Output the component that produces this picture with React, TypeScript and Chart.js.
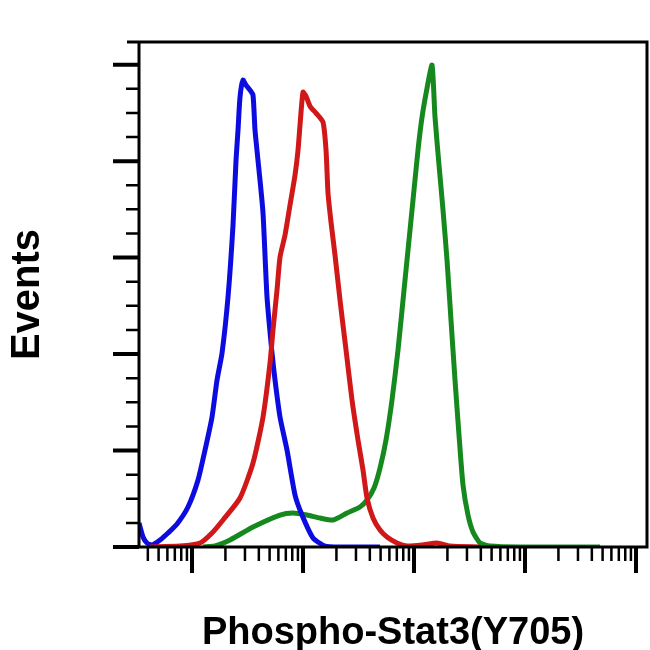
import React, { useEffect, useRef } from "react";
import { Chart, registerables } from "chart.js";

Chart.register(...registerables);

// ---- data (fluorescence intensity, log scale) / (events) ----
const blueIntensity = [3.33, 3.62, 3.93, 4.36, 5.15, 6.08, 7.33, 9.2, 11.33, 13.1, 15.14, 16.8, 18.64, 21.1, 23.41, 24.92, 25.97, 27.06, 28.81, 30.65, 33.31, 35.44, 36.95, 40.14, 43.62, 47.4, 52.57, 55.94, 62.06, 71.76, 84.73, 97.95, 123.1, 157.8, 215.4, 494];
const blueEvents = [4.97, 2.07, 0.83, 0.41, 1.45, 2.9, 4.77, 8.29, 13.89, 20.1, 26.94, 34.61, 40.21, 51.81, 66.74, 80.21, 86.42, 93.26, 96.79, 95.75, 94.72, 93.68, 86.42, 78.13, 69.22, 51.81, 40.21, 34.61, 26.94, 20.1, 10.78, 6.63, 1.87, 0.2, 0, 0];

const redIntensity = [4.18, 7.8, 11.81, 15.14, 19.03, 27.06, 35.44, 43.62, 50.44, 53.66, 58.32, 62.06, 68.84, 76.36, 84.73, 90.16, 93.97, 100, 106.4, 115.6, 131, 151.4, 161.2, 168, 178.8, 194.2, 215.4, 244.1, 276.3, 313, 347.2, 377.3, 427.2, 494, 571.2, 702.9, 864.9, 1181, 1612, 2110, 3933];
const redEvents = [0, 0.21, 0.83, 2.9, 5.6, 10.16, 17.41, 26.94, 38.13, 44.97, 53.26, 60.1, 64.66, 70.88, 77.1, 82.28, 87.46, 94.3, 93.47, 91.4, 89.95, 88.08, 82.28, 73.37, 67.36, 60.52, 51.19, 40.83, 30.47, 22.18, 15.96, 10.16, 6.01, 3.52, 2.07, 0.83, 0.21, 0.41, 0.83, 0.21, 0];

const greenIntensity = [12.56, 16.11, 21.99, 35.44, 62.06, 81.27, 108.6, 142.3, 186.4, 249.2, 326.2, 377.3, 436.2, 494, 559.4, 633.7, 717.6, 812.8, 901.6, 979.5, 1086, 1181, 1310, 1453, 1546, 1680, 1825, 1983, 2154, 2341, 2543, 2763, 3065, 3401, 3933, 4839, 9016, 47400];
const greenEvents = [0, 0.21, 1.45, 4.15, 6.63, 7.05, 6.63, 6.01, 5.6, 7.05, 8.29, 9.74, 12.23, 16.37, 22.18, 30.47, 40.83, 53.26, 63.63, 71.92, 82.28, 89.12, 95.13, 99.9, 89.12, 79.17, 69.84, 59.48, 47.05, 34.61, 23.21, 12.85, 6.63, 3.11, 0.83, 0.21, 0, 0];

// ---- axes ----
const X_MIN = 3.33;
const X_MAX = 125600;
const Y_MIN = 0;
const Y_MAX = 104.7;
const xDecades = [1, 10, 100, 1000, 10000, 100000];
const xMajorTicks = [10, 100, 1000, 10000, 100000];
const xMinorSteps = [2, 3, 4, 5, 6, 7, 8, 9];
const yMajorTicks = [0, 20, 40, 60, 80, 100];
const yMinorTicks = [5, 10, 15, 25, 30, 35, 45, 50, 55, 65, 70, 75, 85, 90, 95];

const xTitle = "Phospho-Stat3(Y705)";
const yTitle = "Events";

const FONT = "'Liberation Sans', Arial, Helvetica, sans-serif";

function toPoints(xs: number[], ys: number[]) {
  return xs.map((x, i) => ({ x, y: ys[i] }));
}

const framePlugin = {
  id: "flowFrame",
  afterDatasetsDraw(chart: any) {
    const { ctx, chartArea: a, scales } = chart;
    const xs = scales.x;
    const ys = scales.y;
    ctx.save();
    ctx.strokeStyle = "#000";
    ctx.lineCap = "butt";

    // frame
    ctx.lineWidth = 3;
    ctx.beginPath();
    ctx.moveTo(a.left - 12, a.top);
    ctx.lineTo(a.right + 1.5, a.top);
    ctx.moveTo(a.right, a.top);
    ctx.lineTo(a.right, a.bottom + 1.5);
    ctx.moveTo(a.left, a.top);
    ctx.lineTo(a.left, a.bottom + 1.5);
    ctx.moveTo(a.left - 1.5, a.bottom);
    ctx.lineTo(a.right + 1.5, a.bottom);
    ctx.stroke();

    // x ticks
    const xMinor: number[] = [];
    xDecades.forEach((d) => xMinorSteps.forEach((m) => xMinor.push(d * m)));
    ctx.lineWidth = 2.5;
    ctx.beginPath();
    xMinor
      .filter((v) => v >= X_MIN && v <= X_MAX)
      .forEach((v) => {
        const px = xs.getPixelForValue(v);
        ctx.moveTo(px, a.bottom);
        ctx.lineTo(px, a.bottom + 14);
      });
    ctx.stroke();
    ctx.lineWidth = 4;
    ctx.beginPath();
    xMajorTicks
      .filter((v) => v >= X_MIN && v <= X_MAX)
      .forEach((v) => {
        const px = xs.getPixelForValue(v);
        ctx.moveTo(px, a.bottom);
        ctx.lineTo(px, a.bottom + 26);
      });
    ctx.stroke();

    // y ticks
    ctx.lineWidth = 2.5;
    ctx.beginPath();
    yMinorTicks.forEach((v) => {
      const py = ys.getPixelForValue(v);
      ctx.moveTo(a.left - 13, py);
      ctx.lineTo(a.left, py);
    });
    ctx.stroke();
    ctx.lineWidth = 4;
    ctx.beginPath();
    yMajorTicks.forEach((v) => {
      const py = ys.getPixelForValue(v);
      ctx.moveTo(a.left - 26, py);
      ctx.lineTo(a.left, py);
    });
    ctx.stroke();
    ctx.restore();
  },
};

export default function App() {
  const ref = useRef<HTMLCanvasElement | null>(null);

  useEffect(() => {
    document.body.style.margin = "0";
    const canvas = ref.current;
    if (!canvas) return;
    const lineStyle = {
      borderWidth: 5,
      pointRadius: 0,
      tension: 0.2,
      fill: false,
    };
    const chart = new Chart(canvas, {
      type: "line",
      data: {
        datasets: [
          { label: "red", data: toPoints(redIntensity, redEvents), borderColor: "#d11818", ...lineStyle },
          { label: "blue", data: toPoints(blueIntensity, blueEvents), borderColor: "#0c0ce0", ...lineStyle },
          { label: "green", data: toPoints(greenIntensity, greenEvents), borderColor: "#16891e", ...lineStyle },
        ],
      },
      options: {
        animation: false,
        responsive: false,
        devicePixelRatio: 1,
        layout: { padding: { top: 42, right: 3, bottom: 0, left: 0 } },
        plugins: {
          legend: { display: false },
          tooltip: { enabled: false },
          title: { display: false },
        },
        scales: {
          x: {
            type: "logarithmic",
            min: X_MIN,
            max: X_MAX,
            position: "bottom",
            grid: { display: false, drawTicks: false },
            border: { display: false },
            ticks: { display: false },
            title: {
              display: true,
              text: xTitle,
              color: "#000",
              font: { family: FONT, size: 38, weight: "bold", lineHeight: 1 },
              padding: { top: 68, bottom: -3 },
            },
          },
          y: {
            type: "linear",
            min: Y_MIN,
            max: Y_MAX,
            position: "left",
            grid: { display: false, drawTicks: false },
            border: { display: false },
            ticks: { display: false },
            title: {
              display: true,
              text: yTitle,
              color: "#000",
              font: { family: FONT, size: 40, weight: "bold", lineHeight: 1 },
              padding: { top: 7.6, bottom: 91.4 },
            },
          },
        },
      },
      plugins: [framePlugin],
    } as any);
    return () => chart.destroy();
  }, []);

  return (
    <div style={{ width: 650, height: 650, background: "#fff" }}>
      <canvas ref={ref} width={650} height={650} style={{ display: "block" }} />
    </div>
  );
}
